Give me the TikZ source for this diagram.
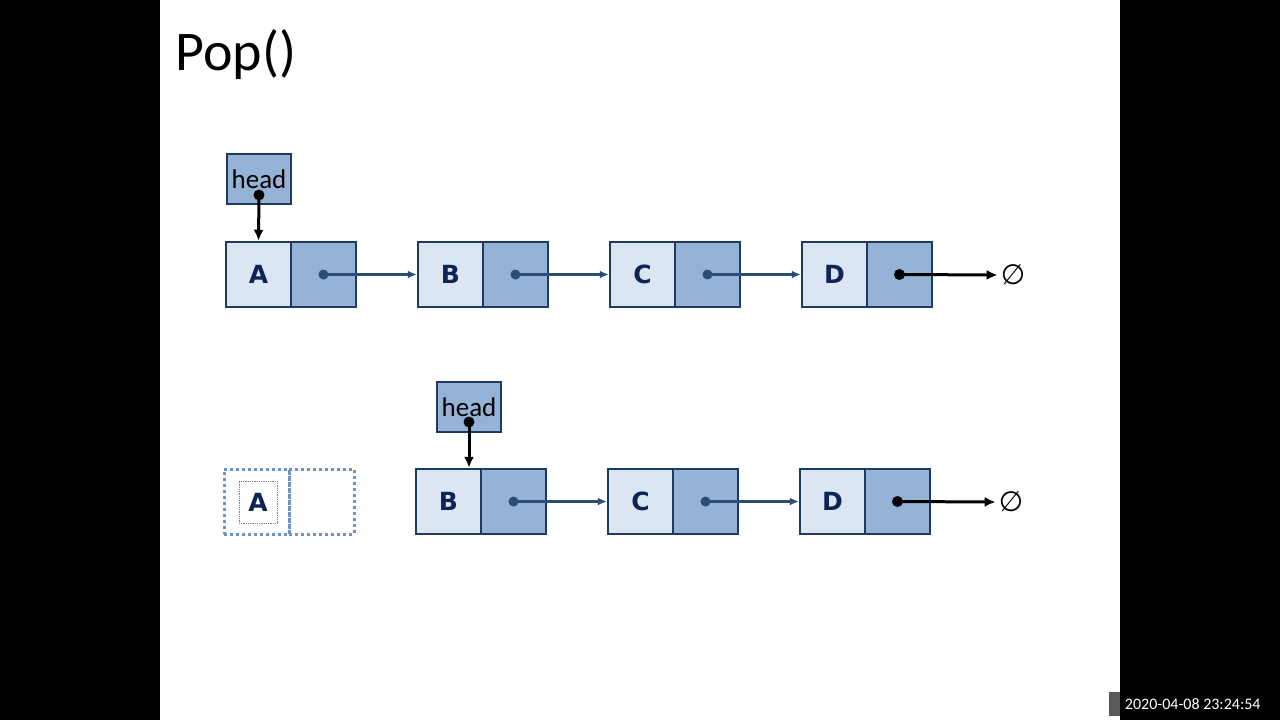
\documentclass[tikz,border=0pt]{standalone}
\usepackage{fontspec}
\setmainfont{Carlito}
\newfontfamily\lettfont{DejaVu Sans}
\usetikzlibrary{arrows.meta}
\definecolor{lite}{HTML}{DCE6F2}
\definecolor{dark}{HTML}{95B3D7}
\definecolor{edge}{HTML}{1F3A5F}
\definecolor{navy}{HTML}{0F2456}
\definecolor{link}{HTML}{2C4D75}
\definecolor{dots}{HTML}{6F93C4}
\tikzset{
  leftcell/.style={draw=edge,line width=2.5pt,fill=lite,minimum width=65pt,minimum height=65pt,inner sep=0pt,font=\lettfont\bfseries\fontsize{25}{25}\selectfont,text=navy},
  rightcell/.style={draw=edge,line width=2.5pt,fill=dark,minimum width=65pt,minimum height=65pt,inner sep=0pt},
  headbox/.style={draw=edge,line width=2.5pt,fill=dark,minimum width=64pt,minimum height=50pt,inner sep=0pt,font=\fontsize{27}{27}\selectfont},
  linkarrow/.style={draw=link,line width=2.5pt,-{Latex[length=9pt,width=8pt]}},
  blackarrow/.style={draw=black,line width=3pt,-{Latex[length=11pt,width=10pt]}},
  nullsym/.style={font=\lettfont\fontsize{28}{28}\selectfont,inner sep=0pt},
  dotcell/.style={draw=dots,line width=3pt,dash pattern=on 3pt off 3pt,minimum width=65pt,minimum height=65pt,inner sep=0pt}
}
\begin{document}
\begin{tikzpicture}[x=1pt,y=-1pt]
\fill[black] (0,0) rectangle (1280,720);
\fill[white] (160,0) rectangle (1120,720);
\useasboundingbox (0,0) rectangle (1280,720);
\node[anchor=west,font=\fontsize{56}{56}\selectfont] (title) at (172,55) {Pop()};
% top row
\foreach \n/\x/\l in {a/226/A,b/418/B,c/610/C,d/802/D}{
  \node[leftcell] (t\n l) at (\x+32.5,274.5) {\l};
  \node[rightcell] (t\n r) at (\x+97.5,274.5) {};
  \fill[link] (t\n r.center) circle (5pt);
}
\node[headbox] (th) at (259,179) {head};
\draw[linkarrow] (tar.center) -- (tbl.west);
\draw[linkarrow] (tbr.center) -- (tcl.west);
\draw[linkarrow] (tcr.center) -- (tdl.west);
\node[nullsym] (tn) at (1013,275) {∅};
\fill (tdr.center) circle (5.5pt);
\draw[blackarrow] (tdr.center) -- ([xshift=-3pt]tn.west);
\coordinate (thd) at (259,195);
\fill (thd) circle (5.5pt);
\draw[blackarrow] (thd) -- (tal.north);
% bottom row
\node[dotcell] (bal) at (256.5,501.5) {};
\node[dotcell] (bar) at (321.5,501.5) {};
\node[draw=gray,densely dotted,line width=0.8pt,minimum width=38pt,minimum height=42pt,font=\lettfont\bfseries\fontsize{25}{25}\selectfont,text=navy] (bai) at (258,502) {A};
\foreach \n/\x/\l in {b/416/B,c/608/C,d/800/D}{
  \node[leftcell] (b\n l) at (\x+32.5,501.5) {\l};
  \node[rightcell] (b\n r) at (\x+97.5,501.5) {};
  \fill[link] (b\n r.center) circle (5pt);
}
\draw[linkarrow] (bbr.center) -- (bcl.west);
\draw[linkarrow] (bcr.center) -- (bdl.west);
\node[nullsym] (bn) at (1011,502) {∅};
\fill (bdr.center) circle (5.5pt);
\draw[blackarrow] (bdr.center) -- ([xshift=-3pt]bn.west);
\node[headbox] (bh) at (469,407) {head};
\coordinate (bhd) at (469,422);
\fill (bhd) circle (5.5pt);
\draw[blackarrow] (bhd) -- (bbl.north -| bhd);
% timestamp
\fill[gray!70!black] (1109,692) rectangle (1120,716);
\node[anchor=east,text=white,font=\fontsize{16}{16}\selectfont] (ts) at (1264,704) {2020-04-08 23:24:54};
\end{tikzpicture}
\end{document}
